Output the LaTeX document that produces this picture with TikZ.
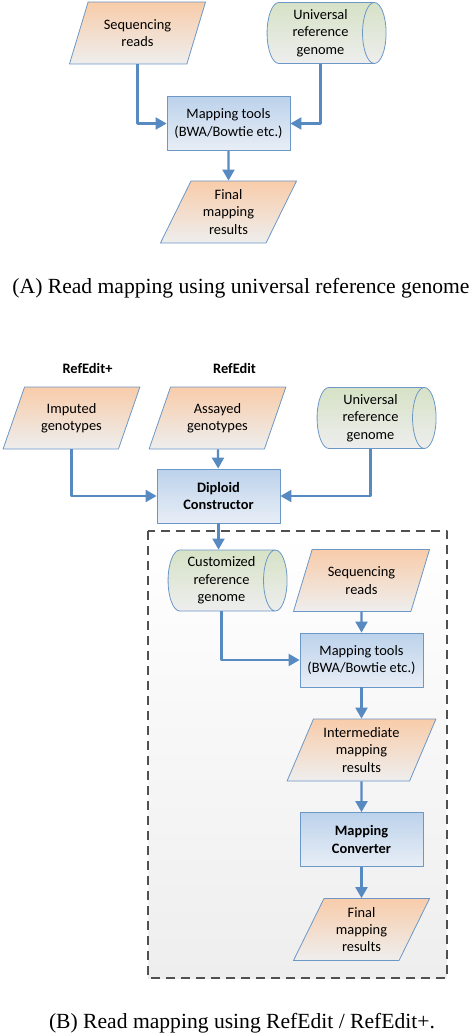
\documentclass[tikz,border=0pt]{standalone}
\usepackage{fontspec}
\setmainfont{Liberation Serif}
\newfontfamily\boxfont{Carlito}
\usetikzlibrary{shapes.geometric,arrows.meta}
\definecolor{flowblue}{RGB}{88,138,194}
\definecolor{edgeblue}{RGB}{108,152,199}
\definecolor{peach}{RGB}{248,204,170}
\definecolor{sage}{RGB}{214,226,198}
\definecolor{skyblue}{RGB}{188,210,235}
\definecolor{paleblue}{RGB}{232,238,246}
\definecolor{palegray}{RGB}{238,238,238}
\definecolor{framegray}{RGB}{80,80,80}
\begin{document}
\begin{tikzpicture}[x=1pt,y=-1pt,line cap=round,line join=round,
  txt/.style={font=\boxfont\fontsize{14.4}{17.3}\selectfont,align=center},
  data/.style={txt,trapezium,trapezium left angle=65,trapezium right angle=115,
    trapezium stretches=true,minimum width=137pt,minimum height=62pt,inner sep=0pt,
    draw=edgeblue,line width=0.8pt,top color=peach,bottom color=palegray},
  store/.style={txt,cylinder,aspect=0.5,minimum height=119pt,minimum width=61pt,
    inner sep=0pt,draw=edgeblue,line width=0.8pt,top color=sage,bottom color=palegray},
  tool/.style={txt,rectangle,minimum width=123pt,minimum height=54pt,inner sep=0pt,
    draw=edgeblue,line width=0.8pt,top color=skyblue,bottom color=paleblue},
  flow/.style={draw=flowblue,line width=2.2pt,line cap=butt,-{Triangle[length=11pt,width=12pt]}},
  caption/.style={font=\fontsize{21.6}{26}\selectfont}]
  \useasboundingbox (0,0) rectangle (474,1035);
  % (A)
  \node[data] (seqA) at (137.5,33) {Sequencing\\reads};
  \node[store] (uniA) at (320.5,33) {Universal\\reference\\genome};
  \node[tool] (mapA) at (228.5,123.5) {Mapping tools\\(BWA/Bowtie etc.)};
  \node[data] (finA) at (228.5,212) {Final\\mapping\\results};
  \draw[flow] (seqA) |- (mapA.west);
  \draw[flow] (uniA) |- (mapA.east);
  \draw[flow] (mapA) -- (finA);
  \node[caption] (capA) at (241,288) {(A) Read mapping using universal reference genome};
  % (B)
  \draw[framegray,line width=1.3pt,dash pattern=on 9pt off 6pt,line cap=butt,
    top color=white,bottom color=palegray] (148,531) rectangle (447,978);
  \node[data] (imp) at (71.5,418) {Imputed\\genotypes};
  \node[data] (asy) at (217.5,418) {Assayed\\genotypes};
  \node[store] (uniB) at (370.5,418) {Universal\\reference\\genome};
  \node[txt,font=\boxfont\bfseries\fontsize{14.4}{17.3}\selectfont] (plus) at (87.5,368) {RefEdit+};
  \node[txt,font=\boxfont\bfseries\fontsize{14.4}{17.3}\selectfont] (base) at (234.5,368) {RefEdit};
  \node[tool,font=\boxfont\bfseries\fontsize{14.4}{17.3}\selectfont] (dip) at (218.5,496) {Diploid\\Constructor};
  \node[store] (cus) at (221.5,580.5) {Customized\\reference\\genome};
  \node[data] (seqB) at (361.5,580.5) {Sequencing\\reads};
  \node[tool] (mapB) at (361.5,660) {Mapping tools\\(BWA/Bowtie etc.)};
  \node[data,minimum width=149pt] (inter) at (361.5,750) {Intermediate\\mapping\\results};
  \node[tool,font=\boxfont\bfseries\fontsize{14.4}{17.3}\selectfont] (conv) at (361.5,839.5) {Mapping\\Converter};
  \node[data] (finB) at (361.5,929.5) {Final\\mapping\\results};
  \draw[flow] (imp) |- (dip.west);
  \draw[flow] (asy) -- (dip);
  \draw[flow] (uniB) |- (dip.east);
  \draw[flow] (dip.south) -- (dip.south |- cus.north);
  \draw[flow] (cus) |- (mapB.west);
  \draw[flow] (seqB) -- (mapB);
  \draw[flow] (mapB) -- (inter);
  \draw[flow] (inter) -- (conv);
  \draw[flow] (conv) -- (finB);
  \node[caption] (capB) at (242,1023) {(B) Read mapping using RefEdit / RefEdit+.};
\end{tikzpicture}
\end{document}
